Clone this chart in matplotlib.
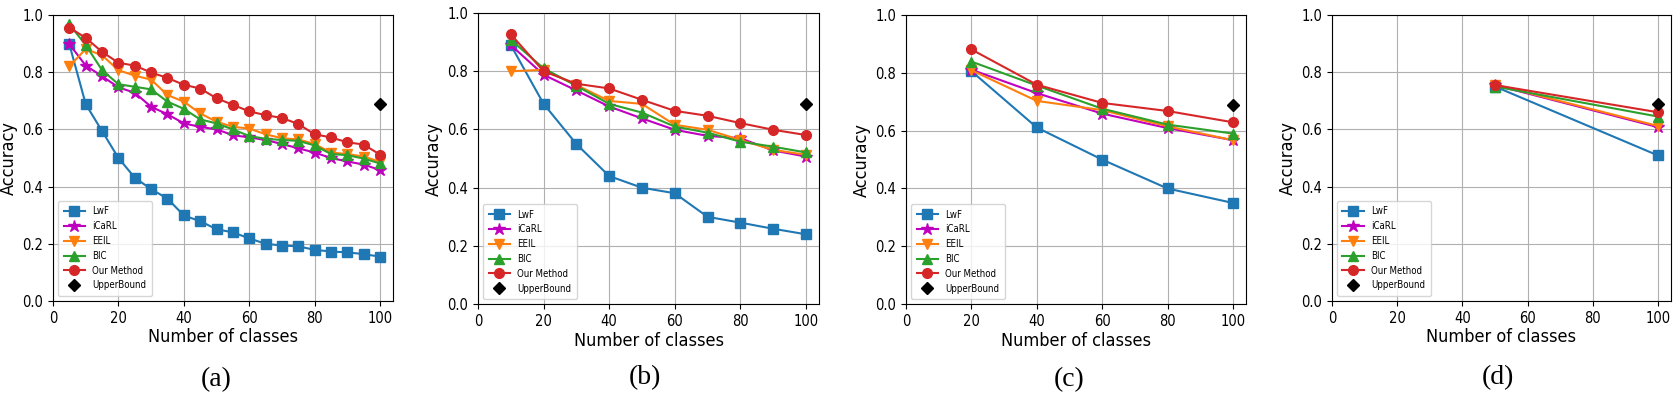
import numpy as np
import matplotlib
matplotlib.use('Agg')
import matplotlib.pyplot as plt

plt.rcParams['font.stretch'] = 'condensed'

# method names and styles
methods = ['LwF', 'iCaRL', 'EEIL', 'BIC', 'Our Method']
colors = ['#1f77b4', 'm', '#ff7f0e', '#2ca02c', '#d62728']
markers = ['s', '*', 'v', '^', 'o']
msizes = [6.5, 9, 7, 7, 7]

# (a) 20 incremental steps
x_a = [5, 10, 15, 20, 25, 30, 35, 40, 45, 50, 55, 60, 65, 70, 75, 80, 85, 90, 95, 100]
lwf_a = [0.897, 0.688, 0.594, 0.500, 0.431, 0.391, 0.358, 0.299, 0.279, 0.251,
         0.240, 0.219, 0.200, 0.194, 0.191, 0.179, 0.173, 0.170, 0.164, 0.155]
icarl_a = [0.898, 0.823, 0.786, 0.747, 0.728, 0.679, 0.653, 0.621, 0.609, 0.600,
           0.580, 0.572, 0.563, 0.549, 0.534, 0.519, 0.500, 0.488, 0.477, 0.458]
eeil_a = [0.821, 0.881, 0.859, 0.807, 0.788, 0.774, 0.720, 0.697, 0.656, 0.627,
          0.609, 0.603, 0.583, 0.569, 0.565, 0.549, 0.519, 0.514, 0.505, 0.487]
bic_a = [0.967, 0.895, 0.807, 0.758, 0.749, 0.740, 0.697, 0.672, 0.635, 0.621,
         0.600, 0.577, 0.567, 0.563, 0.560, 0.544, 0.514, 0.510, 0.498, 0.481]
ours_a = [0.956, 0.920, 0.871, 0.833, 0.823, 0.799, 0.780, 0.756, 0.743, 0.709,
          0.686, 0.663, 0.650, 0.640, 0.619, 0.583, 0.572, 0.555, 0.547, 0.512]

# (b) 10 steps
x_b = [10, 20, 30, 40, 50, 60, 70, 80, 90, 100]
lwf_b = [0.890, 0.688, 0.550, 0.440, 0.400, 0.381, 0.300, 0.280, 0.259, 0.240]
icarl_b = [0.890, 0.788, 0.734, 0.679, 0.638, 0.599, 0.578, 0.570, 0.528, 0.507]
eeil_b = [0.800, 0.805, 0.753, 0.698, 0.688, 0.616, 0.599, 0.564, 0.530, 0.513]
bic_b = [0.908, 0.810, 0.750, 0.688, 0.658, 0.610, 0.589, 0.558, 0.541, 0.521]
ours_b = [0.927, 0.800, 0.757, 0.741, 0.702, 0.664, 0.647, 0.622, 0.599, 0.581]

# (c) 5 steps
x_c = [20, 40, 60, 80, 100]
lwf_c = [0.806, 0.611, 0.500, 0.400, 0.350]
icarl_c = [0.811, 0.730, 0.659, 0.609, 0.567]
eeil_c = [0.809, 0.703, 0.671, 0.615, 0.567]
bic_c = [0.839, 0.756, 0.676, 0.621, 0.590]
ours_c = [0.881, 0.759, 0.696, 0.668, 0.629]

# (d) 2 steps
x_d = [50, 100]
lwf_d = [0.750, 0.509]
icarl_d = [0.755, 0.608]
eeil_d = [0.757, 0.612]
bic_d = [0.750, 0.645]
ours_d = [0.755, 0.660]

upper_x = 100
upper_y = 0.688

panels = [
    (x_a, [lwf_a, icarl_a, eeil_a, bic_a, ours_a], '(a)'),
    (x_b, [lwf_b, icarl_b, eeil_b, bic_b, ours_b], '(b)'),
    (x_c, [lwf_c, icarl_c, eeil_c, bic_c, ours_c], '(c)'),
    (x_d, [lwf_d, icarl_d, eeil_d, bic_d, ours_d], '(d)'),
]

# axes boxes [left, bottom, width, height] in figure fractions
boxes = [
    [0.0316, 0.238, 0.2025, 0.724],
    [0.2847, 0.230, 0.2031, 0.737],
    [0.5396, 0.230, 0.2025, 0.732],
    [0.7933, 0.238, 0.2019, 0.724],
]
captions = [(0.129, 0.040), (0.384, 0.043), (0.637, 0.038), (0.892, 0.043)]

fig = plt.figure(figsize=(16.79, 3.95), dpi=100)

for (xs, series, cap), box, cpos in zip(panels, boxes, captions):
    ax = fig.add_axes(box)
    for name, ys, c, m, ms in zip(methods, series, colors, markers, msizes):
        ax.plot(xs, ys, color=c, marker=m, markersize=ms, linewidth=1.5, label=name)
    ax.plot([upper_x], [upper_y], 'D', color='k', markersize=6.5, linestyle='none', label='UpperBound')
    ax.set_xlim(0, 104)
    ax.set_ylim(0, 1.0)
    ax.set_xticks([0, 20, 40, 60, 80, 100])
    ax.set_yticks([0.0, 0.2, 0.4, 0.6, 0.8, 1.0])
    ax.tick_params(labelsize=10.5)
    ax.grid(True, color='#b0b0b0', linewidth=0.8)
    ax.set_axisbelow(True)
    ax.set_xlabel('Number of classes', fontsize=13, labelpad=2)
    ax.set_ylabel('Accuracy', fontsize=13, labelpad=3)
    ax.legend(loc='lower left', fontsize=6.9, handlelength=2.2, borderpad=0.6,
              labelspacing=0.5, bbox_to_anchor=(0.0, 0.0))
    fig.text(cpos[0], cpos[1], cap, ha='center', va='center', fontsize=20,
             family='Liberation Serif', stretch='normal')

fig.savefig('out.png', dpi=100)
